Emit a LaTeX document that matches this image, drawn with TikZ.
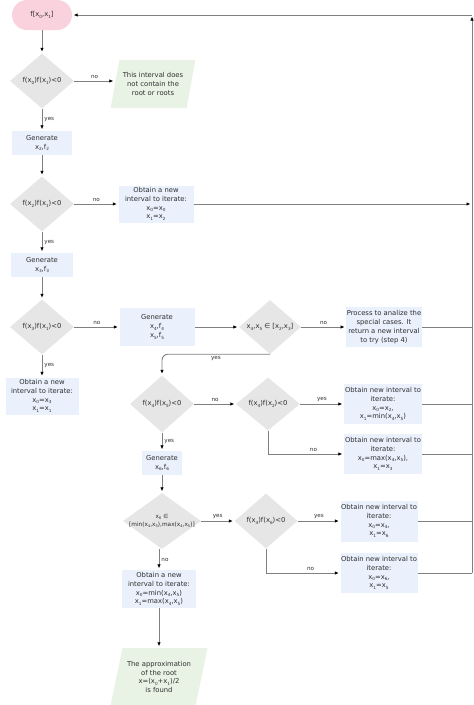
\documentclass[tikz,border=0pt]{standalone}
\usepackage{fontspec}
\setmainfont{DejaVu Sans}
\usepackage{tikz}
\usetikzlibrary{arrows.meta,%
                shapes,positioning}

\definecolor{StartPink}{HTML}{FAD2DE}
\definecolor{DecGray}{HTML}{E6E6E6}
\definecolor{BoxBlue}{HTML}{EAF1FC}
\definecolor{OutGreen}{HTML}{E9F3E5}
\definecolor{LineGray}{HTML}{808080}
\definecolor{TextDark}{HTML}{2E2E2E}

\newcommand{\sbs}[1]{\raisebox{-0.45ex}{\scalebox{0.62}{#1}}}
\newcommand{\xs}[1]{x\sbs{#1}}
\newcommand{\fs}[1]{f\sbs{#1}}

\begin{document}
\begin{tikzpicture}[x=1pt, y=-1pt]
  \tikzset{DecisionStyle/.style = {shape          = diamond,
                                   fill           = DecGray,
                                   text           = TextDark,
                                   align          = center,
                                   inner sep      = -8pt,
                                   minimum width  = 64pt,
                                   minimum height = 55pt},
           ProcessStyle/.style  = {shape          = rectangle,
                                   fill           = BoxBlue,
                                   text           = TextDark,
                                   align          = center,
                                   inner sep      = 0.5pt,
                                   minimum width  = 75pt,
                                   minimum height = 38pt},
           OutputStyle/.style   = {shape          = trapezium,
                                   trapezium left angle  = 72,
                                   trapezium right angle = 108,
                                   trapezium stretches   = true,
                                   fill           = OutGreen,
                                   text           = TextDark,
                                   align          = center,
                                   inner sep      = 1pt},
           StartStyle/.style    = {shape          = rectangle,
                                   rounded corners = 15pt,
                                   fill           = StartPink,
                                   text           = TextDark,
                                   minimum width  = 60pt,
                                   minimum height = 30pt}}
  \useasboundingbox (0,0) rectangle (474,705);
  \begin{scope}[on grid, font=\fontsize{6.8}{8.8}\selectfont,
      LinkStyle/.style={draw=LineGray, line width=0.9pt, shorten >=1.5pt,
                        -{Latex[length=4pt,width=3.5pt,color=black]}},
      BusStyle/.style={draw=LineGray, line width=0.9pt},
      elabel/.style={font=\fontsize{5.6}{6}\selectfont, text=TextDark, inner sep=2pt}]
	%%% LEFT COLUMN %%%
	\node[StartStyle] (start) at (42,15) {f[\xs{0},\xs{1}]};
	\node[DecisionStyle, below=66pt of start] (d1) {f(\xs{0})f(\xs{1})<0};
	\node[OutputStyle, right=111pt of d1, minimum width=85pt, minimum height=48pt, yshift=-3pt] (nointerval)
	  {This interval does\\not contain the\\root or roots};
	\node[ProcessStyle, below=62pt of d1, minimum width=60pt, minimum height=24pt] (gen2) {Generate\\\xs{2},\fs{2}};
	\node[DecisionStyle, below=61pt of gen2] (d2) {f(\xs{2})f(\xs{1})<0};
	\node[ProcessStyle, right=114pt of d2, minimum height=37pt] (new2)
	  {Obtain a new\\interval to iterate:\\\xs{0}=\xs{0}\\\xs{1}=\xs{2}};
	\node[ProcessStyle, below=61pt of d2, minimum width=62pt, minimum height=24pt] (gen3) {Generate\\\xs{3},\fs{3}};
	\node[DecisionStyle, below=62pt of gen3] (d3) {f(\xs{3})f(\xs{1})<0};
	\node[ProcessStyle, below=69pt of d3, minimum width=73pt, minimum height=37pt] (new3)
	  {Obtain a new\\interval to iterate:\\\xs{0}=\xs{3}\\\xs{1}=\xs{1}};
	%%% MIDDLE ROW %%%
	\node[ProcessStyle, right=115pt of d3] (gen45) {Generate\\\xs{4},\fs{4}\\\xs{5},\fs{5}};
	\node[DecisionStyle, right=113pt of gen45, minimum width=62pt, minimum height=54pt] (d4) {\xs{4},\xs{5} ∈ [\xs{2},\xs{3}]};
	\node[ProcessStyle, right=114pt of d4, minimum height=40pt] (special)
	  {Process to analize the\\special cases. It\\return a new interval\\to try (step 4)};
	\node[DecisionStyle, below=77pt of gen45, xshift=5pt, minimum height=57pt] (d5) {f(\xs{4})f(\xs{5})<0};
	\node[DecisionStyle, right=106pt of d5, minimum height=53pt] (d6) {f(\xs{4})f(\xs{2})<0};
	\node[ProcessStyle, right=115pt of d6, minimum width=78pt, minimum height=40pt] (new4)
	  {Obtain new interval to\\iterate:\\\xs{0}=\xs{2},\\\xs{1}=min(\xs{4},\xs{5})};
	\node[ProcessStyle, below=50pt of new4, minimum width=78pt, minimum height=40pt] (new5)
	  {Obtain new interval to\\iterate:\\\xs{0}=max(\xs{4},\xs{5}),\\\xs{1}=\xs{3}};
	%%% BOTTOM PART %%%
	\node[ProcessStyle, below=59pt of d5, minimum width=40pt, minimum height=24pt] (gen6) {Generate\\\xs{6},\fs{6}};
	\node[DecisionStyle, below=58pt of gen6, minimum width=78pt, minimum height=56pt,
	      font=\fontsize{5.8}{8}\selectfont] (d7)
	  {\xs{6} ∈\\{}[min(\xs{4},\xs{5}),max(\xs{4},\xs{5})]};
	\node[DecisionStyle, right=104pt of d7, minimum width=63pt] (d8) {f(\xs{4})f(\xs{6})<0};
	\node[ProcessStyle, right=113pt of d8, minimum width=77pt, minimum height=41pt] (new6)
	  {Obtain new interval to\\iterate:\\\xs{0}=\xs{4},\\\xs{1}=\xs{6}};
	\node[ProcessStyle, below=52pt of new6, minimum width=77pt, minimum height=40pt] (new7)
	  {Obtain new interval to\\iterate:\\\xs{0}=\xs{6},\\\xs{1}=\xs{5}};
	\node[ProcessStyle, below=68pt of d7, xshift=-3pt, minimum width=74pt] (new8)
	  {Obtain a new\\interval to iterate:\\\xs{0}=min(\xs{4},\xs{5})\\\xs{1}=max(\xs{4},\xs{5})};
	\node[OutputStyle, below=88pt of new8, minimum width=98pt, minimum height=58pt] (root)
	  {The approximation\\of the root\\x=(\xs{0}+\xs{1})/2\\is found};
	%% RETURN LINE
	\coordinate (bustop) at (472,15);
	\coordinate (busbot) at (472,573);
	%%% CONNECTORS %%%
	\draw[LinkStyle] (start) to (d1);
	\draw[LinkStyle] (d1) to node[elabel, above]{no} (nointerval.west |- d1);
	\draw[LinkStyle] (d1) to node[elabel, right]{yes} (gen2);
	\draw[LinkStyle] (gen2) to (d2);
	\draw[LinkStyle] (d2) to node[elabel, above]{no} (new2);
	\draw[LinkStyle] (new2) to (new2.east -| bustop);
	\draw[LinkStyle] (d2) to node[elabel, right]{yes} (gen3);
	\draw[LinkStyle] (gen3) to (d3);
	\draw[LinkStyle] (d3) to node[elabel, above]{no} (gen45);
	\draw[LinkStyle] (d3) to node[elabel, right]{yes} (new3);
	\draw[LinkStyle] (gen45) to (d4);
	\draw[LinkStyle] (d4) to node[elabel, above]{no} (special);
	\draw[BusStyle] (special) to (special.east -| bustop);
	\draw[LinkStyle, rounded corners=6pt] (d4.south) -| node[elabel, below, pos=.25]{yes} (d5.north);
	\draw[LinkStyle] (d5) to node[elabel, above]{no} (d6);
	\draw[LinkStyle] (d6) to node[elabel, above]{yes} (new4);
	\draw[BusStyle] (new4) to (new4.east -| bustop);
	\draw[LinkStyle] (d6.south) |- node[elabel, above, pos=.8]{no} (new5.west);
	\draw[BusStyle] (new5) to (new5.east -| bustop);
	\draw[LinkStyle] (d5) to node[elabel, right]{yes} (gen6);
	\draw[LinkStyle] (gen6) to (d7);
	\draw[LinkStyle] (d7) to node[elabel, above]{yes} (d8);
	\draw[LinkStyle] (d8) to node[elabel, above]{yes} (new6);
	\draw[BusStyle] (new6) to (new6.east -| bustop);
	\draw[LinkStyle] (d8.south) |- node[elabel, above, pos=.8]{no} (new7.west);
	\draw[BusStyle] (new7) to (new7.east -| bustop);
	\draw[LinkStyle] (d7.south -| new8) to node[elabel, right]{no} (new8);
	\draw[LinkStyle] (new8) to (root);
	\draw[LinkStyle] (busbot) to (bustop);
	\draw[LinkStyle] (bustop) to (start.east |- bustop);
  \end{scope}
\end{tikzpicture}
\end{document}
